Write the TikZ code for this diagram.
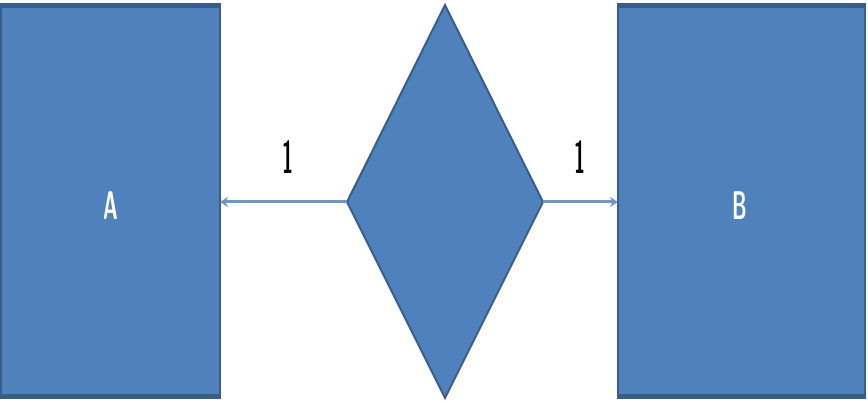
\documentclass[tikz,border=0pt]{standalone}
\usetikzlibrary{arrows.meta}
\usepackage{graphicx}
\definecolor{fillb}{HTML}{4F81BD}
\definecolor{edgeb}{HTML}{385D8A}
\definecolor{linkb}{HTML}{7096C8}
\tikzset{ent/.style={fill=fillb,draw=edgeb,line width=2pt},
 lnk/.style={draw=linkb,line width=3pt,-{Stealth[length=8pt,width=10pt]}},
 lbl/.style={font=\sffamily\bfseries\fontsize{40}{40}\selectfont}}
\begin{document}
\begin{tikzpicture}[x=1pt,y=-1pt]
\useasboundingbox (0,0) rectangle (868,403);
\path[ent] (1,4) rectangle (220,398);
\path[ent] (618,4) rectangle (865,398);
\draw[edgeb,line width=4pt] (1,6)--(220,6) (1,396)--(220,396) (618,6)--(865,6) (618,396)--(865,396);
\coordinate (Aedge) at (220,202);
\coordinate (Bedge) at (618,202);
\path[ent] (445,5) -- (543,202) -- (445,398) -- (347,202) -- cycle;
\coordinate (Dl) at (347,202);
\coordinate (Dr) at (543,202);
\draw[lnk] (Dl) -- (Aedge);
\draw[lnk] (Dr) -- (Bedge);
\node[lbl,white] (ta) at (111,206) {\scalebox{0.5}[1]{A}};
\node[lbl,white] (tb) at (740,206) {\scalebox{0.5}[1]{B}};
\node[lbl] (l1) at (288,157) {\scalebox{0.5}[1.15]{1}};
\node[lbl] (l2) at (580,157) {\scalebox{0.5}[1.15]{1}};
\end{tikzpicture}
\end{document}
